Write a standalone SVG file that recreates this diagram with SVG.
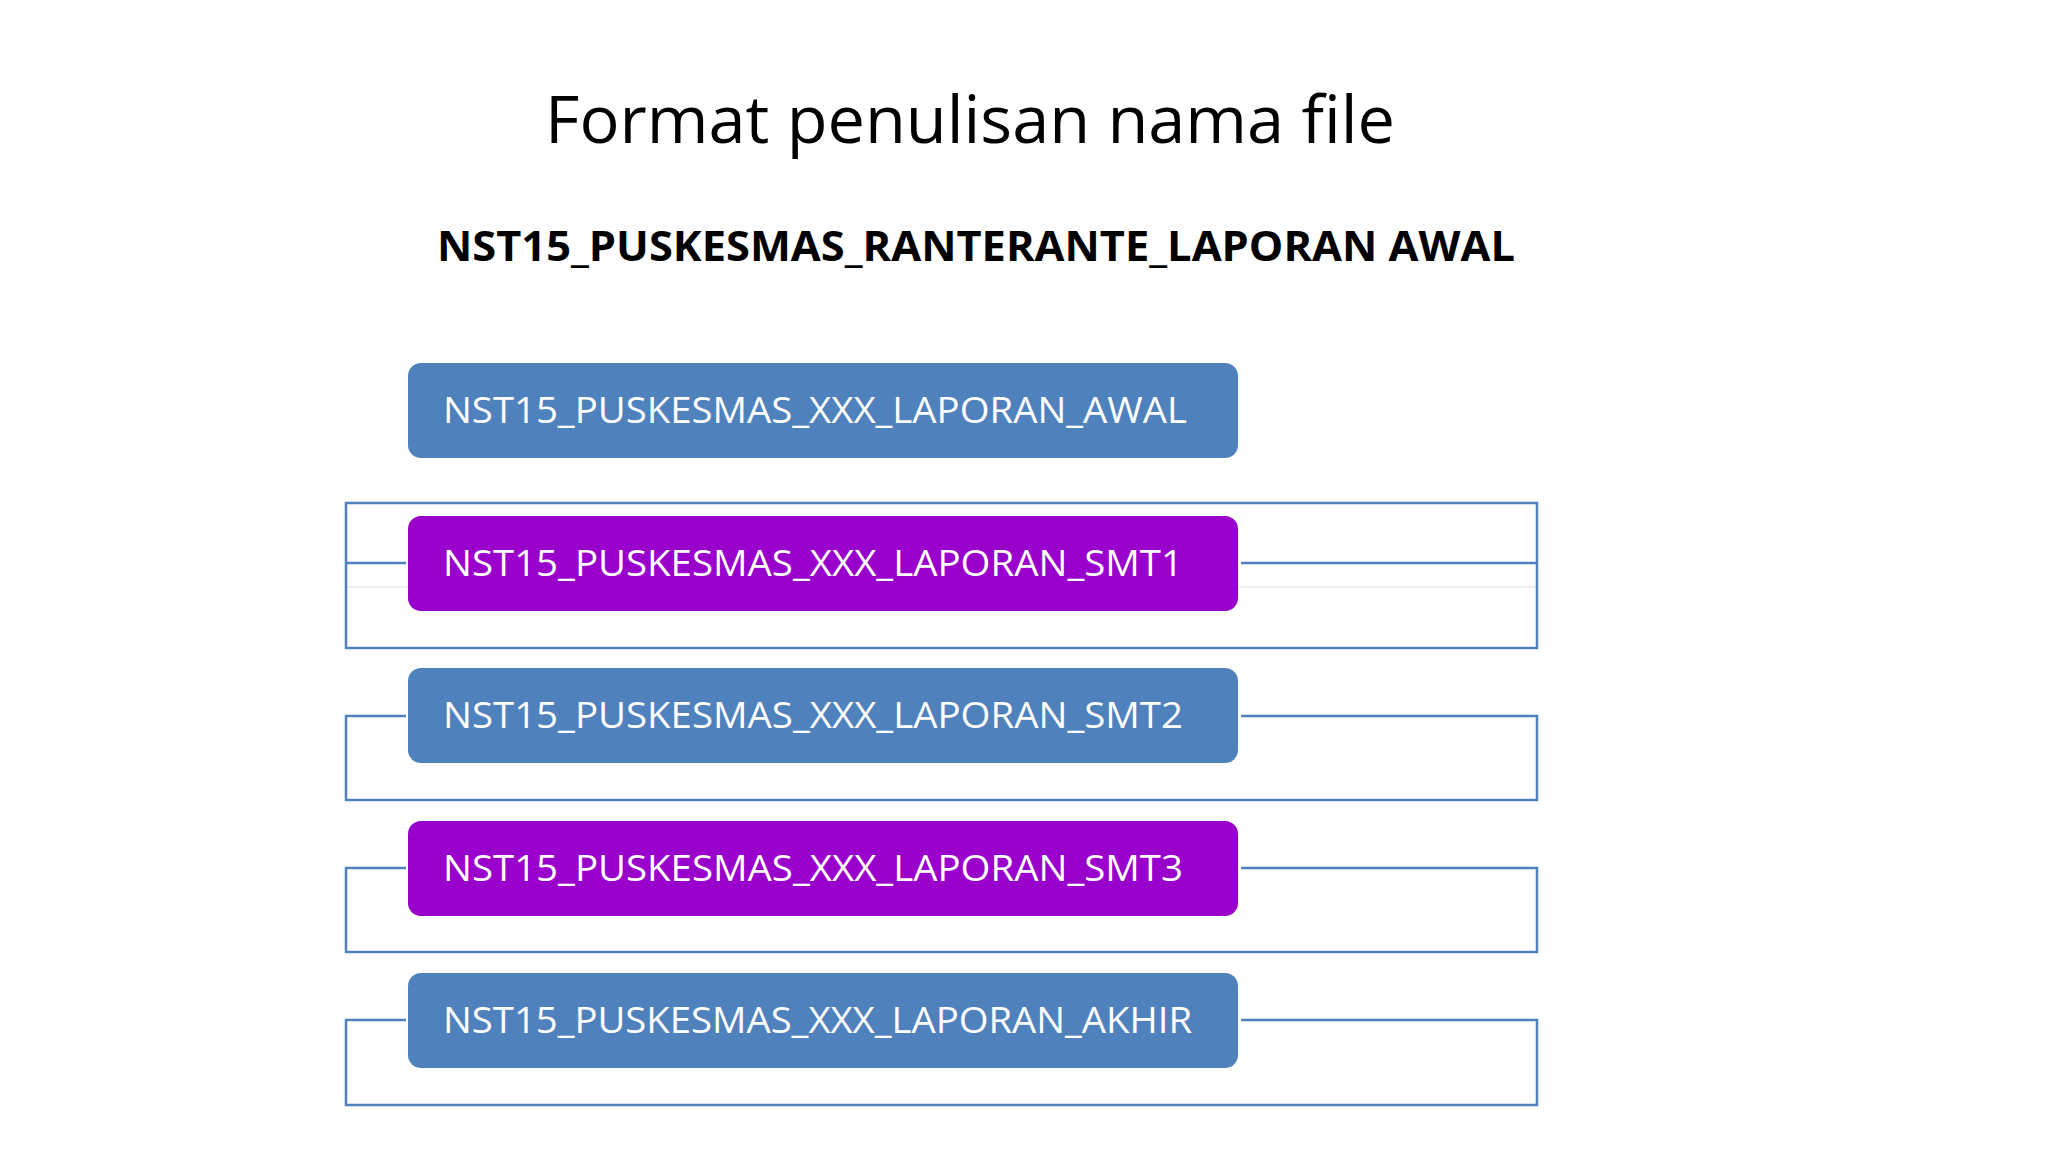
<svg xmlns="http://www.w3.org/2000/svg" width="2048" height="1152" viewBox="0 0 2048 1152">
<style>
.box-blue{fill:#4F81BD}
.box-purple{fill:#9900CC}
.lbl{font-family:"Open Sans","Liberation Sans",sans-serif;font-size:36px;fill:#ffffff}
.conn{fill:none;stroke:#4F81BD;stroke-width:2.5}
</style>
<rect width="2048" height="1152" fill="#ffffff"/>
<text id="title" x="545" y="143" font-family="'Open Sans','Liberation Sans',sans-serif" font-size="66" fill="#000000" textLength="850" lengthAdjust="spacingAndGlyphs">Format penulisan nama file</text>
<text id="subtitle" x="437" y="261" font-family="'Open Sans','Liberation Sans',sans-serif" font-weight="bold" font-size="42" fill="#000000" textLength="1078" lengthAdjust="spacingAndGlyphs">NST15_PUSKESMAS_RANTERANTE_LAPORAN AWAL</text>
<g id="connectors">
<line x1="346" y1="587" x2="1537" y2="587" stroke="#eceff3" stroke-width="2"/>
<rect class="conn" x="346" y="503" width="1191" height="145"/>
<line class="conn" x1="346" y1="563" x2="406" y2="563"/>
<line class="conn" x1="1241" y1="563" x2="1537" y2="563"/>
<path class="conn" d="M406 716 H346 V800 H1537 V716 H1241"/>
<path class="conn" d="M406 868 H346 V952 H1537 V868 H1241"/>
<path class="conn" d="M406 1020 H346 V1105 H1537 V1020 H1241"/>
</g>
<g id="node-awal">
<rect class="box-blue" x="408" y="363" width="830" height="95" rx="13"/>
<text class="lbl" x="443" y="423" textLength="744" lengthAdjust="spacingAndGlyphs">NST15_PUSKESMAS_XXX_LAPORAN_AWAL</text>
</g>
<g id="node-smt1">
<rect class="box-purple" x="408" y="516" width="830" height="95" rx="13"/>
<text class="lbl" x="443" y="576" textLength="740" lengthAdjust="spacingAndGlyphs">NST15_PUSKESMAS_XXX_LAPORAN_SMT1</text>
</g>
<g id="node-smt2">
<rect class="box-blue" x="408" y="668" width="830" height="95" rx="13"/>
<text class="lbl" x="443" y="728" textLength="740" lengthAdjust="spacingAndGlyphs">NST15_PUSKESMAS_XXX_LAPORAN_SMT2</text>
</g>
<g id="node-smt3">
<rect class="box-purple" x="408" y="821" width="830" height="95" rx="13"/>
<text class="lbl" x="443" y="881" textLength="740" lengthAdjust="spacingAndGlyphs">NST15_PUSKESMAS_XXX_LAPORAN_SMT3</text>
</g>
<g id="node-akhir">
<rect class="box-blue" x="408" y="973" width="830" height="95" rx="13"/>
<text class="lbl" x="443" y="1033" textLength="749" lengthAdjust="spacingAndGlyphs">NST15_PUSKESMAS_XXX_LAPORAN_AKHIR</text>
</g>
</svg>
